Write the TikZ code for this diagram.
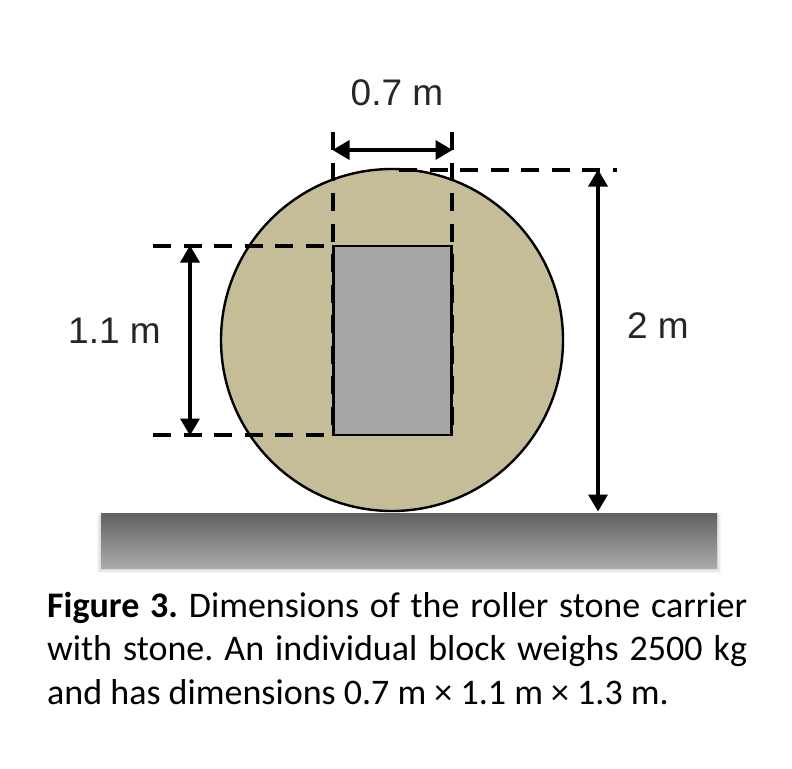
\documentclass[tikz,border=0pt]{standalone}
\usepackage{fontspec}
\setmainfont{Carlito}
\newfontfamily\labelfont{Liberation Sans}
\usetikzlibrary{arrows.meta}
\definecolor{carrier}{RGB}{196,189,151}
\definecolor{stone}{RGB}{166,166,166}
\tikzset{
  dimarrow/.style={line width=3.6pt,{Triangle[length=17pt,width=19pt]}-{Triangle[length=17pt,width=19pt]},shorten >=-0.5pt,shorten <=-0.5pt},
  dashline/.style={line width=3.4pt,dash pattern=on 18pt off 12.5pt},
  dimlabel/.style={font=\labelfont\fontsize{37}{40}\selectfont,text=black!85,inner sep=0pt},
  shadowrect/.style={fill=black,opacity=0.035,draw=none}
}
\begin{document}
\begin{tikzpicture}[x=1pt,y=-1pt]
\useasboundingbox (0,0) rectangle (792,768);
% ground shadow
\foreach \d in {1,2,...,5}{
  \fill[shadowrect] (101-\d+1,515) rectangle (717+\d-1,568+\d);
}
\node[draw=none,fill=none,inner sep=0pt,minimum width=616pt,minimum height=55pt,top color=black!62,bottom color=black!33] (ground) at (409,540.5) {};
\node[circle,draw=black,line width=2.4pt,fill=carrier,minimum size=342pt,inner sep=0pt] (carrier) at (392,340) {};
% coordinates
\coordinate (wl) at (333,132);
\coordinate (wr) at (452,132);
\coordinate (wlb) at (333,435);
\coordinate (wrb) at (452,435);
\coordinate (hta) at (153,246);
\coordinate (htb) at (333,246);
\coordinate (hba) at (153,435);
\coordinate (hbb) at (333,435);
\coordinate (ta) at (399,170);
\coordinate (tb) at (617,170);
\coordinate (al) at (333,150);
\coordinate (ar) at (452,150);
\coordinate (bt) at (190,246);
\coordinate (bb) at (190,435);
\coordinate (ct) at (598,170);
\coordinate (cb) at (598,511);
% dashed guides
\draw[dashline] (wl) -- (wlb);
\draw[dashline] (wr) -- (wrb);
\draw[dashline] (hta) -- (htb);
\draw[dashline] (hba) -- (hbb);
\draw[dashline] (ta) -- (tb);
\node[draw=black,line width=2.4pt,fill=stone,minimum width=118pt,minimum height=189pt,inner sep=0pt] (block) at (392.5,340.5) {};
% dimension arrows
\draw[dimarrow] (al) -- (ar);
\draw[dimarrow] (bt) -- (bb);
\draw[dimarrow] (ct) -- (cb);
% labels
\node[dimlabel] (lw) at (397,93) {0.7 m};
\node[dimlabel] (lh) at (114.5,331) {1.1 m};
\node[dimlabel] (ld) at (658,326) {2 m};
% caption
\node[anchor=north west,inner sep=0pt,text width=700pt,align=justify,font=\fontsize{36}{43.5}\selectfont\frenchspacing] (caption) at (47,592)
  {\textbf{Figure 3.} Dimensions of the roller stone carrier\linebreak with stone. An individual block weighs 2500 kg\linebreak and has dimensions 0.7 m × 1.1 m × 1.3 m.};
\end{tikzpicture}
\end{document}
